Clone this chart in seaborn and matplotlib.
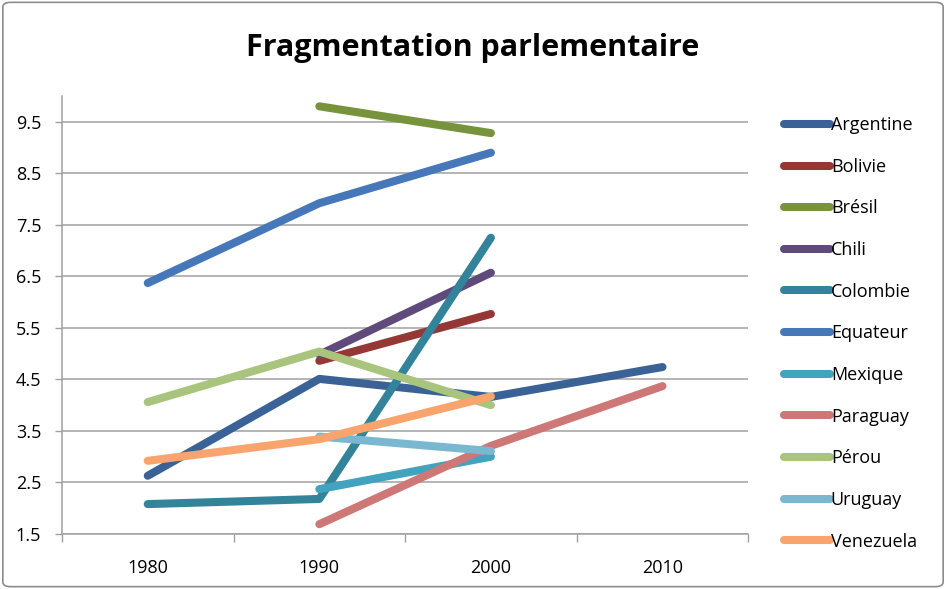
import matplotlib
matplotlib.use("Agg")

import matplotlib.pyplot as plt
import numpy as np
import pandas as pd
import seaborn as sns
from matplotlib.patches import FancyBboxPatch


# Chart data
years = [1980, 1990, 2000, 2010]

countries = [
    "Argentine", "Bolivie", "Brésil", "Chili", "Colombie", "Equateur",
    "Mexique", "Paraguay", "Pérou", "Uruguay", "Venezuela"
]

argentine = [2.63, 4.51, 4.16, 4.74]
bolivie = [np.nan, 4.86, 5.77, np.nan]
bresil = [np.nan, 9.80, 9.28, np.nan]
chili = [np.nan, 4.98, 6.57, np.nan]
colombie = [2.08, 2.18, 7.25, np.nan]
equateur = [6.37, 7.92, 8.90, np.nan]
mexique = [np.nan, 2.37, 3.00, np.nan]
paraguay = [np.nan, 1.69, 3.21, 4.37]
perou = [4.06, 5.04, 4.00, np.nan]
uruguay = [np.nan, 3.39, 3.11, np.nan]
venezuela = [2.92, 3.34, 4.17, np.nan]

series = [
    argentine, bolivie, bresil, chili, colombie, equateur,
    mexique, paraguay, perou, uruguay, venezuela
]

colors = [
    "#3B6296", "#953835", "#77933C", "#5F4A7C", "#33849A", "#4677B8",
    "#41A3BD", "#CD7777", "#A8C47D", "#79B8D0", "#F8A46C"
]

y_ticks = [1.5, 2.5, 3.5, 4.5, 5.5, 6.5, 7.5, 8.5, 9.5]


# Long format table for seaborn
rows = []
for name, values in zip(countries, series):
    for year, value in zip(years, values):
        rows.append({"Année": year, "Pays": name, "Valeur": value})

df = pd.DataFrame(rows).dropna()


sns.set_style("white")
plt.rcParams["font.family"] = ["Open Sans", "DejaVu Sans"]
plt.rcParams["text.color"] = "#000000"

fig = plt.figure(figsize=(9.46, 5.89), dpi=100)
ax = fig.add_axes([0.0655, 0.0934, 0.7255, 0.7436])

sns.lineplot(
    data=df,
    x="Année",
    y="Valeur",
    hue="Pays",
    hue_order=countries,
    palette=colors,
    linewidth=5.8,
    solid_capstyle="round",
    ax=ax,
    legend=False
)

# Axes limits and ticks
ax.set_xlim(1975, 2015)
ax.set_ylim(1.5, 10)

ax.set_xticks([1975, 1985, 1995, 2005, 2015])
ax.set_xticklabels([])
ax.set_xticks(years, minor=True)
ax.set_xticklabels([str(y) for y in years], minor=True)

ax.set_yticks(y_ticks)
ax.set_yticklabels([str(v) for v in y_ticks])

ax.tick_params(axis="x", which="major", direction="out", length=6,
               width=1, color="#A0A0A0", bottom=True)
ax.tick_params(axis="x", which="minor", length=0, pad=18,
               labelsize=13, labelcolor="#000000")
ax.tick_params(axis="y", direction="out", length=5, width=1,
               color="#A0A0A0", pad=10, labelsize=13,
               labelcolor="#000000", left=True)

ax.set_xlabel("")
ax.set_ylabel("")

ax.yaxis.grid(True, color="#A0A0A0", linewidth=1.1)
ax.set_axisbelow(True)

for side in ["top", "right"]:
    ax.spines[side].set_visible(False)
for side in ["left", "bottom"]:
    ax.spines[side].set_color("#A0A0A0")
    ax.spines[side].set_linewidth(1.1)


# Legend at the right of the plot
handles = [
    plt.Line2D([0], [0], color=c, linewidth=5.8, solid_capstyle="round")
    for c in colors
]
fig.legend(
    handles,
    countries,
    loc="upper left",
    bbox_to_anchor=(0.821, 0.815),
    frameon=False,
    fontsize=13,
    handlelength=2.55,
    handletextpad=0.05,
    labelspacing=1.31,
    borderaxespad=0
)


# Title
fig.text(
    0.5, 0.918,
    "Fragmentation parlementaire",
    ha="center",
    va="center",
    fontsize=22,
    fontweight="bold",
    color="#000000"
)


# Outer chart border
border = FancyBboxPatch(
    (0.003, 0.004), 0.994, 0.992,
    boxstyle="round,pad=0,rounding_size=0.008",
    transform=fig.transFigure,
    facecolor="none",
    edgecolor="#8C8C8C",
    linewidth=1.2
)
fig.patches.append(border)

fig.savefig("out.png", dpi=100)
plt.close(fig)
